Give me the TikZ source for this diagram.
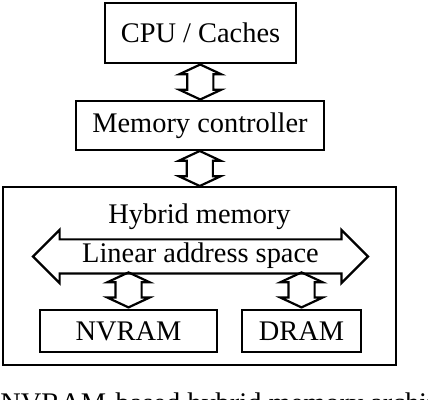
\documentclass[tikz,border=0pt]{standalone}
\usepackage{fontspec}
\setmainfont{Liberation Serif}
\usetikzlibrary{shapes.arrows,calc}

\begin{document}
\begin{tikzpicture}[x=1pt,y=1pt,
  txt/.style={font=\fontsize{14.2}{17}\selectfont},
  box/.style={txt,draw,line width=1.3pt,inner sep=0pt},
  vdarrow/.style={draw,line width=1.1pt,double arrow,rotate=90,inner xsep=0pt,inner ysep=6pt,
    minimum height=17.5pt,double arrow head extend=4pt,double arrow tip angle=130},
  hdarrow/.style={txt,draw,line width=1.1pt,double arrow,inner xsep=0pt,inner ysep=1.7pt,
    text height=9.5pt,text depth=3.1pt,minimum height=167.5pt,double arrow head extend=4.75pt}]
\useasboundingbox (0,0) rectangle (214,-200);
\clip (0,0) rectangle (214,-200);
% boxes
\node[box,minimum width=95.5pt,minimum height=30pt] (cpu) at (100.25,-16.5) {CPU / Caches};
\node[box,minimum width=124pt,minimum height=24.5pt] (mc) at (100,-62.75) {Memory controller};
\node[box,minimum width=196.5pt,minimum height=89pt] (hybrid) at (99.75,-138) {};
\node[txt] (title) at (99.75,-108.2) {Hybrid memory};
\node[hdarrow] (space) at (100.25,-128.25) {Linear address space};
\node[box,minimum width=88.5pt,minimum height=21pt] (nvram) at (64.25,-165.5) {NVRAM};
\node[box,minimum width=59.5pt,minimum height=21pt] (dram) at (150.75,-165.5) {DRAM};
% links
\node[vdarrow] (a1) at ($(cpu.south)!0.5!(mc.north)$) {};
\node[vdarrow] (a2) at ($(mc.south)!0.5!(hybrid.north)$) {};
\node[vdarrow] (a3) at ($(nvram.north)+(0,9.4)$) {};
\node[vdarrow] (a4) at ($(dram.north)+(0,9.4)$) {};
% caption, cut off by the page
\node[txt,anchor=base west,inner sep=0pt] (caption) at (0,-206) {NVRAM-based hybrid memory architecture};
\end{tikzpicture}
\end{document}
